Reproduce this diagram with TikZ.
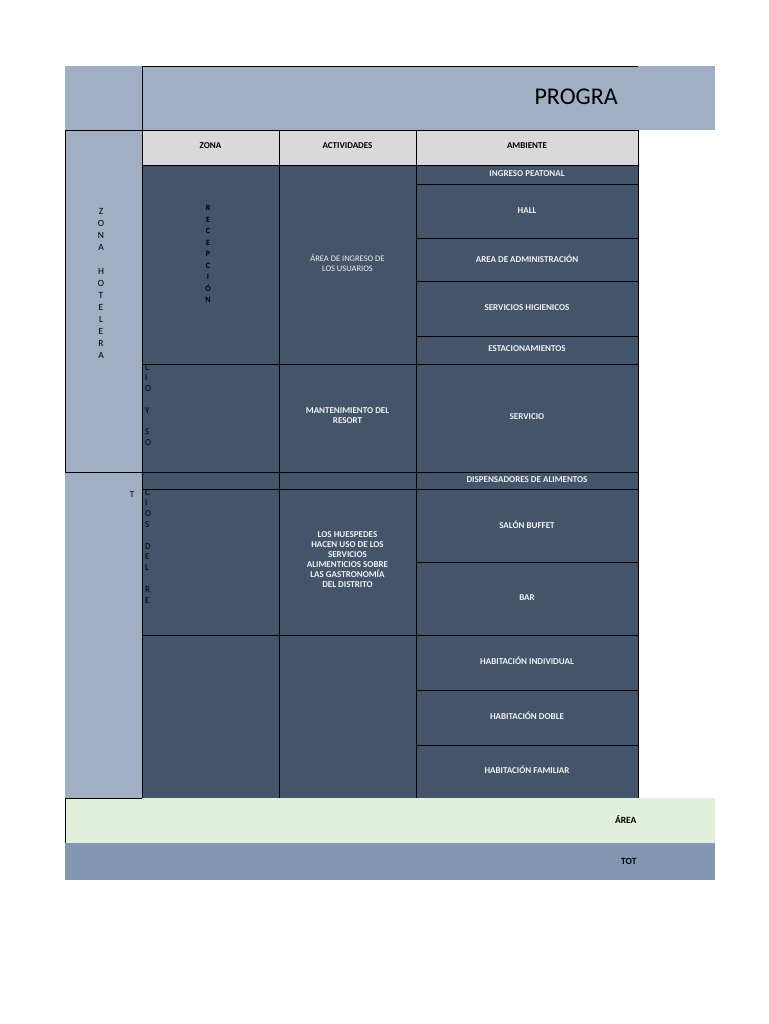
\documentclass[tikz,border=0pt]{standalone}
\usepackage{fontspec}
\setmainfont{Carlito}
\definecolor{hb}{HTML}{A0AFC4}
\definecolor{dk}{HTML}{44546A}
\definecolor{hg}{HTML}{D9D9D9}
\definecolor{gr}{HTML}{E2EFDA}
\definecolor{tb}{HTML}{8497B0}
\definecolor{lt}{HTML}{F2F2F2}
\begin{document}
\begin{tikzpicture}[x=1pt,y=-1pt,
  ln/.style={draw=black,line width=0.8pt},
  amb/.style={font=\bfseries\fontsize{9}{10}\selectfont,text=lt,align=center},
  vert/.style={font=\bfseries\fontsize{9}{11.5}\selectfont,align=center,anchor=north}]
\useasboundingbox (0,0) rectangle (768,1024);
\fill[white] (0,0) rectangle (768,1024);
% header band
\fill[hb] (65,66) rectangle (715,130);
\draw[ln] (142,66) rectangle (638,130);
\node[anchor=west,font=\fontsize{24}{28}\selectfont] (title) at (531,97) {PROGRA};
\fill[white] (638,66) rectangle (715,130);
\fill[hb] (638,66) rectangle (715,130);
\fill[white] (640,80) rectangle (715,120);
\fill[hb] (640,80) rectangle (715,120);
% left column
\fill[hb] (65,130) rectangle (142,798);
\draw[ln] (65,130) rectangle (142,472);
% header row
\fill[hg] (142,130) rectangle (638,165);
\draw[ln] (142,130) rectangle (638,165);
\draw[ln] (279,130) -- (279,165) (416,130) -- (416,165);
\node[font=\bfseries\fontsize{9}{10}\selectfont] (h1) at (210.5,146) {ZONA};
\node[font=\bfseries\fontsize{9}{10}\selectfont] (h2) at (347.5,146) {ACTIVIDADES};
\node[font=\bfseries\fontsize{9}{10}\selectfont] (h3) at (527,146) {AMBIENTE};
% body
\fill[dk] (142,165) rectangle (638,798);
\draw[ln] (142,165) rectangle (638,798);
\draw[ln] (279,165) -- (279,798) (416,165) -- (416,798);
\foreach \y in {364,472,489,635} \draw[ln] (142,\y) -- (416,\y);
\foreach \y in {184,238,281,336,364,472,489,562,635,690,745} \draw[ln] (416,\y) -- (638,\y);
% ambiente texts
\node[amb] (a1) at (527,174) {INGRESO PEATONAL};
\node[amb] (a2) at (527,211) {HALL};
\node[amb] (a3) at (527,259) {AREA DE ADMINISTRACIÓN};
\node[amb] (a4) at (527,308) {SERVICIOS HIGIENICOS};
\node[amb] (a5) at (527,349) {ESTACIONAMIENTOS};
\node[amb] (a6) at (527,417) {SERVICIO};
\node[amb] (a7) at (527,480) {DISPENSADORES DE ALIMENTOS};
\node[amb] (a8) at (527,525) {SALÓN BUFFET};
\node[amb] (a9) at (527,598) {BAR};
\node[amb] (a10) at (527,661) {HABITACIÓN INDIVIDUAL};
\node[amb] (a11) at (527,716) {HABITACIÓN DOBLE};
\node[amb] (a12) at (527,770) {HABITACIÓN FAMILIAR};
% actividades
\node[amb,font=\fontsize{8.5}{9.5}\selectfont] (c1) at (347.5,263) {ÁREA DE INGRESO DE\\LOS USUARIOS};
\node[amb] (c2) at (347.5,416) {MANTENIMIENTO DEL\\RESORT};
\node[amb,font=\bfseries\fontsize{9}{10}\selectfont] (c3) at (347.5,560) {LOS HUESPEDES\\HACEN USO DE LOS\\SERVICIOS\\ALIMENTICIOS SOBRE\\LAS GASTRONOMÍA\\DEL DISTRITO};
% vertical texts
\node[vert,font=\fontsize{9.5}{12}\selectfont] (zh) at (101,205) {Z\\O\\N\\A\\[12pt]H\\O\\T\\E\\L\\E\\R\\A};
\node[vert,font=\bfseries\fontsize{8}{11.5}\selectfont] (rc) at (208,202) {R\\E\\C\\E\\P\\C\\I\\Ó\\N};
\begin{scope}
\clip (142,364) rectangle (279,472);
\node[vert,font=\fontsize{9}{10.8}\selectfont,anchor=north west,align=left,inner sep=0pt] (s1) at (145,364) {C\\I\\O\\[10.8pt]Y\\[10.8pt]S\\O};
\end{scope}
\begin{scope}
\clip (142,489) rectangle (279,635);
\node[vert,font=\fontsize{9}{10.8}\selectfont,anchor=north west,align=left,inner sep=0pt] (s2) at (145,483) {.\\C\\I\\O\\S\\[10.8pt]D\\E\\L\\[10.8pt]R\\E};
\end{scope}
\begin{scope}
\clip (120,489) rectangle (142,520);
\node[font=\fontsize{9}{10.8}\selectfont,anchor=north,align=center,inner sep=0pt] (ut) at (132,481) {U\\T};
\end{scope}
% totals
\fill[gr] (65,798) rectangle (715,843);
\draw[ln] (65,798) -- (65,843) -- (638,843);
\draw[ln] (65,798) -- (142,798);
\node[anchor=east,font=\bfseries\fontsize{9.5}{11}\selectfont] (ar) at (640,820) {ÁREA};
\fill[tb] (65,843) rectangle (715,880);
\node[anchor=east,font=\bfseries\fontsize{9.5}{11}\selectfont] (tt) at (640,861) {TOT};
\end{tikzpicture}
\end{document}
